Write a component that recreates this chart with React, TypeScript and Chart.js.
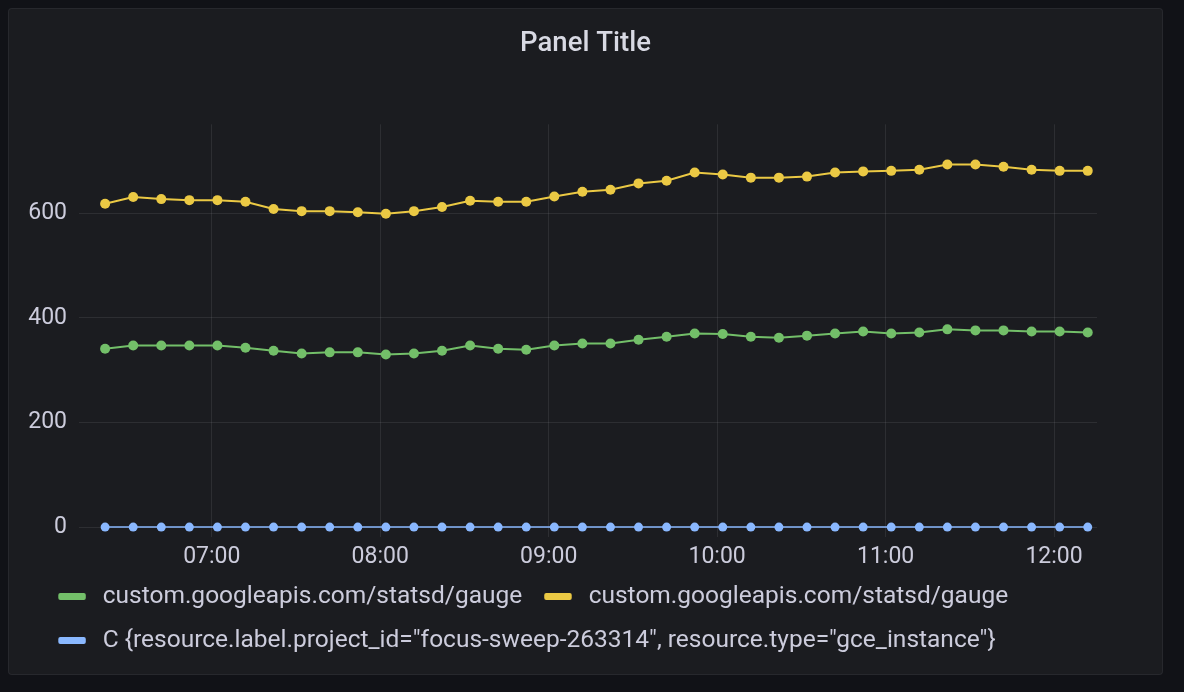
import React, { useEffect, useRef } from 'react';
import { Chart, registerables } from 'chart.js';

Chart.register(...registerables);

const times = [
  '06:22', '06:32', '06:42', '06:52', '07:02', '07:12', '07:22', '07:32', '07:42', '07:52',
  '08:02', '08:12', '08:22', '08:32', '08:42', '08:52', '09:02', '09:12', '09:22', '09:32',
  '09:42', '09:52', '10:02', '10:12', '10:22', '10:32', '10:42', '10:52', '11:02', '11:12',
  '11:22', '11:32', '11:42', '11:52', '12:02', '12:12',
];

const gaugeGreen = [
  341, 347, 347, 347, 347, 343, 337, 332, 334, 334,
  330, 332, 337, 347, 341, 339, 347, 351, 351, 358,
  364, 370, 369, 364, 362, 366, 370, 374, 370, 372,
  378, 376, 376, 374, 374, 372,
];

const gaugeYellow = [
  618, 631, 627, 625, 625, 622, 608, 604, 604, 602,
  599, 604, 612, 624, 622, 622, 632, 641, 645, 657,
  662, 678, 674, 668, 668, 670, 678, 680, 681, 683,
  693, 693, 689, 683, 681, 681,
];

const seriesC = [
  0, 0, 0, 0, 0, 0, 0, 0, 0, 0,
  0, 0, 0, 0, 0, 0, 0, 0, 0, 0,
  0, 0, 0, 0, 0, 0, 0, 0, 0, 0,
  0, 0, 0, 0, 0, 0,
];

const hourTicks = ['07:00', '08:00', '09:00', '10:00', '11:00', '12:00'];
const yTicks = [0, 200, 400, 600];

const seriesLabels = [
  'custom.googleapis.com/statsd/gauge',
  'custom.googleapis.com/statsd/gauge',
  'C {resource.label.project_id="focus-sweep-263314", resource.type="gce_instance"}',
];
const seriesColors = ['#73BF69', '#EBC944', '#8AB8FF'];

const toMin = (s: string) => parseInt(s.slice(0, 2), 10) * 60 + parseInt(s.slice(3), 10);

const FONT = 'Roboto';
const TEXT = '#ccccdc';
const GRID = 'rgba(204,204,220,0.1)';

// Grafana-style legend: small rounded colour bar, label, items wrapped left-aligned.
const legendPlugin = {
  id: 'grafanaLegend',
  afterDraw(chart: any) {
    const ctx: CanvasRenderingContext2D = chart.ctx;
    const left = 49.3;
    const right = chart.width - 20;
    const rowGap = 44;
    const textOffset = 44.4;
    const itemGap = 22;
    let x = left;
    let y = 588;
    ctx.save();
    ctx.font = `24.5px ${FONT}`;
    ctx.textBaseline = 'middle';
    ctx.textAlign = 'left';
    chart.data.datasets.forEach((ds: any) => {
      const tw = ctx.measureText(ds.label).width;
      const w = textOffset + tw;
      if (x > left && x + w > right) {
        x = left;
        y += rowGap;
      }
      ctx.fillStyle = ds.borderColor;
      ctx.beginPath();
      if ((ctx as any).roundRect) (ctx as any).roundRect(x, y - 4, 27.5, 7, 2);
      else ctx.rect(x, y - 4, 27.5, 7);
      ctx.fill();
      ctx.fillStyle = TEXT;
      ctx.fillText(ds.label, x + textOffset, y);
      x += w + itemGap;
    });
    ctx.restore();
  },
};

export default function App() {
  const ref = useRef<HTMLCanvasElement | null>(null);

  useEffect(() => {
    if (!ref.current) return;
    Chart.defaults.font.family = FONT;
    const seriesValues = [gaugeGreen, gaugeYellow, seriesC];

    const datasets = seriesValues.map((vals, i) => ({
      label: seriesLabels[i],
      data: times.map((t, j) => ({ x: toMin(t), y: vals[j] })),
      borderColor: seriesColors[i],
      backgroundColor: seriesColors[i],
      pointBackgroundColor: seriesColors[i],
      pointBorderWidth: 0,
      pointRadius: i === 2 ? 4.5 : 5,
      pointHoverRadius: i === 2 ? 4.5 : 5,
      borderWidth: i === 2 ? 1.5 : 2,
      tension: 0,
      fill: false,
    }));

    const chart = new Chart(ref.current, {
      type: 'line',
      data: { datasets },
      plugins: [legendPlugin],
      options: {
        animation: false,
        responsive: false,
        layout: { padding: { left: 10, right: 10, top: 0, bottom: 110 } },
        plugins: {
          title: {
            display: true,
            text: 'Panel Title',
            color: '#d8d9e3',
            font: { family: FONT, size: 27.5, weight: '500' as any },
            padding: { top: 18.5, bottom: 63.8 },
          },
          legend: { display: false },
          tooltip: { enabled: false },
        },
        scales: {
          x: {
            type: 'linear',
            min: 372.7,
            max: 735.3,
            afterBuildTicks: (s: any) => {
              s.ticks = hourTicks.map((h) => ({ value: toMin(h) }));
            },
            afterFit: (s: any) => {
              s.height = 27.5;
            },
            ticks: {
              color: TEXT,
              font: { family: FONT, size: 23 },
              padding: 7,
              maxRotation: 0,
              autoSkip: false,
              callback: (v: any) => hourTicks.find((h) => toMin(h) === v) || '',
            },
            grid: { color: GRID, drawTicks: false },
            border: { display: false },
          },
          y: {
            min: -18,
            max: 770,
            afterBuildTicks: (s: any) => {
              s.ticks = yTicks.map((v) => ({ value: v }));
            },
            afterFit: (s: any) => {
              s.width = 60;
            },
            ticks: {
              color: TEXT,
              font: { family: FONT, size: 23 },
              padding: 12,
            },
            grid: { color: GRID, drawTicks: false },
            border: { display: false },
          },
          // empty right-hand gutter, as in the Grafana panel
          yRight: {
            position: 'right',
            min: -18,
            max: 770,
            ticks: { display: false },
            grid: { display: false, drawTicks: false },
            border: { display: false },
            afterFit: (s: any) => {
              s.width = 55;
            },
          },
        },
      } as any,
    });
    return () => chart.destroy();
  }, []);

  return (
    <div style={{ position: 'fixed', inset: 0, background: '#111217' }}>
      <div
        style={{
          position: 'absolute',
          left: 8,
          top: 8,
          width: 1155,
          height: 667,
          boxSizing: 'border-box',
          border: '1px solid rgba(204,204,220,0.07)',
          borderRadius: 4,
          background: '#1b1c20',
          overflow: 'hidden',
        }}
      >
        <canvas ref={ref} width={1153} height={665} style={{ display: 'block', width: 1153, height: 665 }} />
      </div>
    </div>
  );
}
